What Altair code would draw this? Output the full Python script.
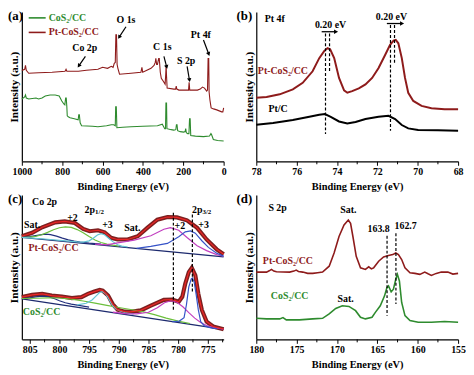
import math
import altair as alt
import pandas as pd

FONT = "Liberation Serif"
RED = "#8e1b1b"
GREEN = "#2e8b2e"
BLACK = "#000000"

# ---------------- (a) survey spectra: [binding energy, intensity] ----------------
a_red = [[1000, 91.7], [986, 93], [982, 97], [978, 92], [966, 89], [917, 89.5], [850, 90], [786, 91],
         [781, 93], [777, 91], [720, 91], [680, 92], [623, 93], [600, 95], [575, 94], [557, 96],
         [548, 95], [542, 99], [537, 100], [534, 128], [531, 128], [528, 98], [524, 94], [516, 88],
         [459, 89], [410, 90], [405, 95], [401, 90], [360, 94], [345, 97], [339, 100], [336, 104],
         [332, 98], [328, 98], [322, 104], [319, 104], [314, 90], [309, 84], [299, 81], [290, 78],
         [287, 88], [285, 97], [283, 86], [280, 74], [247, 73], [238, 73], [235, 76], [232, 73],
         [222, 72], [181, 72], [174, 72], [171, 80], [168, 72], [130, 72], [116, 73], [105, 75],
         [95, 74], [84, 71], [80, 72], [77, 104], [74, 104], [72, 70], [68, 62], [62, 54], [50, 53],
         [34, 52], [10, 50], [4, 50], [0, 54]]
a_green = [[1000, 63], [986, 65], [982, 67], [978, 64], [966, 63], [930, 64], [917, 63], [900, 64],
           [884, 66], [860, 67], [835, 67], [815, 66], [802, 61], [792, 58], [787, 57], [783, 64],
           [780, 64], [777, 55], [775, 46], [770, 45], [761, 44], [740, 43], [721, 42], [718, 47],
           [715, 47], [711, 39], [704, 36], [650, 35.5], [623, 35], [580, 36], [557, 37], [545, 37],
           [537, 36], [535, 55], [532, 55], [529, 34], [500, 34.5], [459, 35], [400, 35.5], [328, 36],
           [304, 37.5], [292, 33], [288, 33], [286, 59], [283, 59], [281, 33], [260, 32], [247, 31.5],
           [237, 32], [234, 37], [231, 37], [228, 31], [215, 30], [198, 29.5], [191, 30], [188, 33],
           [185, 29], [178, 28], [172, 28], [169, 43], [166, 43], [163, 26], [140, 25.5], [100, 25],
           [70, 25.5], [63, 28], [60, 27], [51, 22], [30, 21], [0, 20.5]]
a_arrows = [[685, 106, 716, 97], [484, 136, 516, 126], [296, 106, 283, 96],
            [181, 96, 170, 82.7], [100, 122.7, 75, 109]]
a_labels = [["Co 2p", 688, 114.3], ["O 1s", 484, 142.7], ["C 1s", 304, 116],
            ["S 2p", 186, 101.7], ["Pt 4f", 113, 127.7]]
a_legend = [["CoS\u2082/CC", 966, 882, 867, 145, GREEN], ["Pt-CoS\u2082/CC", 966, 882, 867, 130.3, RED]]

# ---------------- (b) Pt 4f ----------------
b_red = [[78, 64.3], [77.49, 65], [76.84, 67.7], [76.19, 72.7], [75.7, 79.3], [75.21, 91], [74.88, 104.3],
         [74.63, 111.7], [74.47, 114.3], [74.34, 113.3], [74.14, 104.3], [73.9, 84.3], [73.65, 71.7],
         [73.49, 69.3], [73.25, 71], [72.92, 73.7], [72.59, 77.7], [72.26, 84.3], [71.94, 94.3],
         [71.61, 107.7], [71.37, 117.7], [71.2, 122], [71.09, 122.7], [70.96, 119.3], [70.79, 104.3],
         [70.63, 84.3], [70.47, 69.3], [70.22, 61], [69.81, 56], [69.32, 53.7], [68.67, 52.7], [68, 52.7]]
b_black = [[78, 37], [77.17, 38.7], [76.19, 41.7], [75.37, 45], [74.88, 47], [74.6, 47.7], [74.31, 45],
           [73.9, 40.3], [73.49, 38.3], [73.08, 39.7], [72.59, 42.7], [71.94, 45], [71.45, 46],
           [71.12, 42.7], [70.79, 36.7], [70.47, 33.3], [69.98, 31.7], [69, 31.3], [68, 31]]
b_dashes = [[74.57, 129.3, 27.7], [74.37, 129.3, 91], [71.35, 137.7, 31], [71.15, 137.7, 97.7]]
b_arrows = [[74.76, 131, 74.08, 131], [71.53, 139.3, 70.81, 139.3]]
b_labels = [["0.20 eV", 74.32, 137.7, BLACK], ["0.20 eV", 71.3, 146, BLACK],
            ["Pt-CoS\u2082/CC", 76.68, 91, RED], ["Pt/C", 76.92, 52.7, BLACK]]

# ---------------- (c) Co 2p ----------------
c_up_env = [[806.33, 104.3], [804.6, 107.7], [802.9, 113.3], [800.7, 118.3], [799.1, 119.3], [797.4, 117.7],
            [796, 111.7], [794.9, 109.3], [793.5, 110.3], [792.4, 108.3], [791.3, 102.7], [790.2, 101],
            [788.5, 101], [786.8, 104.3], [785.2, 112.7], [783.5, 121], [781.8, 123.7], [780.2, 123.3],
            [778.5, 120.3], [776.8, 112.7], [775.2, 101], [773.5, 91], [772.33, 86]]
c_up_base = [[806.33, 103], [772.33, 83.5]]
c_up_sat = [[806.33, 103.2], [805, 103.8], [804, 104.9], [803, 105.9], [802.3, 106.3], [801.5, 105.9],
            [800.5, 104.4], [799.5, 102.4], [798.5, 100.6], [797.5, 99.3], [796.5, 98.4], [795, 97.3], [793, 96.2]]
c_up_green = [[806.33, 103.2], [805, 103.4], [804, 104.2], [803, 105.8], [802, 108.2], [801, 110.8],
              [800, 112.8], [799, 113.8], [798, 113.2], [797, 111], [796, 107.8], [795, 104], [794, 100.5],
              [793, 97.9], [792, 96.3], [791, 95.2], [790, 94.3]]
c_up_cyan = [[806.33, 103.1], [802, 101.2], [799, 99.5], [797, 98.6], [796, 98.4], [795, 99.6], [794.3, 102.3],
             [793.6, 105.6], [793, 106.8], [792.4, 105.8], [791.8, 102.8], [791, 98.8], [790.2, 95.6],
             [789.5, 94.2], [788.5, 93.4]]
c_up_mag = [[794, 96.2], [792, 95.6], [790.2, 97.6], [787.4, 100.3], [784.6, 104.7], [782.4, 111.3],
            [781.3, 113], [779.9, 110.3], [778.5, 103], [776.8, 94.7], [775.2, 89.7], [773.5, 85.7], [772.33, 84]]
c_up_blue = [[787, 92], [784.6, 94], [781.8, 97], [779.9, 103.7], [778.8, 108.7], [777.9, 109.7],
             [777.1, 107.3], [776, 99.7], [774.9, 93], [773.5, 87], [772.33, 84.2]]
c_lo_env = [[806.33, 42.7], [804.6, 45], [802.9, 46], [801.3, 44.3], [799.6, 43.3], [797.9, 41.7], [796.3, 42.7],
            [795.2, 46], [794.1, 48.3], [793.2, 50], [792.7, 49.3], [791.8, 44.3], [791, 35.5], [790.2, 30],
            [789, 28], [788, 27.8], [786.3, 29.3], [784.6, 34], [782.4, 40], [781, 40.3], [779.9, 38],
            [779.3, 43], [778.8, 56.3], [778.2, 68], [777.7, 72.3], [777.1, 64.7], [776.6, 46.3], [776, 29.7],
            [775.2, 18], [774.1, 13], [772.33, 10.3]]
c_lo_base = [[806.33, 41], [772.33, 10]]
c_lo_sat = [[806.33, 41.2], [805, 42], [804, 43], [803, 43.8], [802, 43.3], [801, 41.5], [800, 39],
            [799, 37], [798, 35.6], [797, 34.6], [795, 32.6]]
c_lo_green = [[806.33, 41.3], [804, 41.6], [802, 42], [800, 41.8], [798, 40.6], [796, 38.8], [794, 36.6],
              [792, 34.4], [790, 32.2], [788, 30.2], [786, 28], [784, 25], [782, 21.5], [780, 18.5], [778, 16]]
c_lo_cyan = [[797, 34.8], [795.5, 36.5], [794.5, 39.8], [793.8, 44], [793.2, 47.6], [792.7, 48.2], [792.2, 46.2],
             [791.7, 41.2], [791.2, 35.6], [790.6, 31.2], [789.8, 28.8], [789, 27.2], [787.5, 25.5]]
c_lo_mag = [[791, 27.5], [789, 26], [787, 25.8], [785, 27.4], [783.5, 32], [782.3, 37], [781.2, 39],
            [780.2, 37.5], [779.2, 33], [778.2, 27], [777.2, 21.5], [776.2, 17], [775.2, 14], [774, 12], [772.33, 10.2]]
c_lo_blue = [[781, 17.8], [779.8, 18.5], [779, 22], [778.6, 35], [778.2, 53], [777.8, 61], [777.6, 62],
             [777.3, 58], [777, 47], [776.6, 30], [776.2, 18], [775.6, 13.8], [774.5, 11.7], [773.5, 10.9]]
c_dashes = [[780.8, 128, 29.7], [777.6, 126.3, 46.3]]
c_labels = [["Sat.", 804.6, 116, BLACK], ["+2", 797.8, 122.7, BLACK], ["+3", 791.9, 116, BLACK],
            ["Sat.", 787.7, 112.7, BLACK], ["+2", 779.7, 115, BLACK], ["+3", 775.7, 116, BLACK],
            ["Pt-CoS\u2082/CC", 801, 92.7, RED], ["CoS\u2082/CC", 803, 27.7, GREEN]]
c_orbitals = [["2p", "1/2", 794.0, 131], ["2p", "3/2", 775.9, 131]]
c_title = [["Co 2p", 804.6, 139.3]]

# ---------------- (d) S 2p ----------------
d_red = [[180, 68], [178.73, 68], [178.4, 69.3], [178.12, 70.7], [177.83, 69], [177.5, 68.3], [175.87, 68],
         [175.34, 69], [175.06, 70], [174.77, 68.7], [174.24, 68], [173.63, 66.7], [173.01, 66.7], [172.4, 67.3],
         [171.79, 68], [170.97, 74], [170.36, 87.3], [169.75, 104], [169.13, 115.7], [168.6, 120.7],
         [168.32, 117.3], [168.03, 104], [167.62, 84], [167.09, 72.3], [166.48, 70.7], [166.07, 73.3],
         [165.74, 71.3], [165.46, 72.3], [164.84, 79], [164.23, 83.3], [163.62, 84.7], [163.09, 85.7],
         [162.72, 87.3], [162.39, 85.7], [161.99, 80.7], [161.58, 72.3], [160.96, 67.3], [160.35, 66.7],
         [159.74, 65.7], [159.13, 68], [158.72, 66.3], [158.31, 64.7], [157.7, 66.7], [157.08, 68],
         [156.27, 68], [155.65, 66], [155, 66.7]]
d_green = [[180, 21.3], [178.73, 20.7], [177.1, 20.7], [176.69, 22], [176.28, 19.7], [174.65, 19.7],
           [173.01, 20.7], [171.79, 21.3], [170.97, 25.7], [170.16, 31.3], [169.34, 34], [168.52, 33.3],
           [167.7, 29], [167.09, 22.3], [166.48, 20.7], [165.66, 22.3], [165.25, 27.3], [164.64, 34],
           [164.11, 44], [163.82, 52.3], [163.62, 54], [163.29, 48], [163.01, 50.7], [162.72, 60.7],
           [162.52, 65.7], [162.27, 59], [161.99, 37.3], [161.58, 24], [160.96, 19], [159.94, 17.3],
           [158.31, 17.3], [156.67, 18], [155, 17.3]]
d_dashes = [[163.8, 104.7, 24], [162.7, 107.3, 35.7]]
d_labels = [["Sat.", 168.6, 130.7, BLACK], ["163.8", 164.84, 111.3, BLACK], ["162.7", 161.5, 114.7, BLACK],
            ["Pt-CoS\u2082/CC", 176.08, 79, RED], ["Sat.", 168.93, 40.7, BLACK], ["CoS\u2082/CC", 175.87, 44, GREEN]]
d_title = [["S 2p", 178.5, 132.3]]

# ---------------- axes ----------------
a_ticks, a_minor = [1000, 800, 600, 400, 200, 0], [900, 700, 500, 300, 100]
b_ticks, b_minor = [78, 76, 74, 72, 70, 68], [77, 75, 73, 71, 69]
c_ticks, c_minor = [805, 800, 795, 790, 785, 780, 775], [802.5, 797.5, 792.5, 787.5, 782.5, 777.5, 772.5]
d_ticks, d_minor = [180, 175, 170, 165, 160, 155], [177.5, 172.5, 167.5, 162.5, 157.5]

W = 204
H1 = 151
H2 = 146


class Panel:
    def __init__(self, xdom, H, ticks, minor, tag, tagx):
        self.xdom, self.H, self.layers = xdom, H, []
        xs = alt.Scale(domain=xdom, reverse=True, nice=False, zero=False)
        ys = alt.Scale(domain=[0, H], nice=False, zero=False)
        xa = alt.Axis(values=ticks, title="Binding Energy (eV)", grid=False, format="d", labelFlush=False,
                      labelOverlap=False, tickSize=4, labelPadding=1, titlePadding=5)
        ya = alt.Axis(title="Intensity (a.u.)", labels=False, ticks=False, grid=False, titlePadding=2,
                      titleFontSize=11.5)
        self.X = lambda f="E": alt.X(f, type="quantitative", scale=xs, axis=xa)
        self.Y = lambda f="I": alt.Y(f, type="quantitative", scale=ys, axis=ya)
        self.layers.append(alt.Chart(pd.DataFrame({"E": minor})).mark_rule(color="black", strokeWidth=1)
                           .encode(x=self.X(), y=alt.value(H), y2=alt.value(H + 3)))
        self.layers.append(alt.Chart(pd.DataFrame({"t": [tag]})).mark_text(
            font=FONT, fontWeight="bold", fontSize=13, align="left", baseline="top", color="black")
            .encode(text="t:N", x=alt.value(tagx), y=alt.value(-2)))

    def line(self, pairs, color, width, opacity=1.0):
        self.layers.append(alt.Chart(pd.DataFrame(pairs, columns=["E", "I"])).mark_line(
            color=color, strokeWidth=width, opacity=opacity).encode(x=self.X(), y=self.Y()))

    def text(self, rows, size=10, align="center", dy=0):
        d = pd.DataFrame(rows, columns=["t", "E", "I", "c"])
        self.layers.append(alt.Chart(d).mark_text(font=FONT, fontWeight="bold", fontSize=size,
                                                  align=align, baseline="middle", dy=dy)
                           .encode(x=self.X(), y=self.Y(), text="t:N",
                                   color=alt.Color("c:N", scale=None)))

    def dashes(self, rows):
        d = pd.DataFrame(rows, columns=["E", "I", "I2"])
        self.layers.append(alt.Chart(d).mark_rule(color="black", strokeWidth=1.2, strokeDash=[3, 2])
                           .encode(x=self.X(), y=self.Y(), y2=alt.Y2("I2")))

    def arrows(self, rows, width=1.3, head=22):
        d = pd.DataFrame(rows, columns=["E", "I", "E2", "I2"])
        span = self.xdom[1] - self.xdom[0]
        angs = []
        for _, r in d.iterrows():
            dx = -(r.E2 - r.E) * W / span
            dy = -(r.I2 - r.I)
            angs.append(math.degrees(math.atan2(dx, -dy)) % 360)
        d["ang"] = angs
        self.layers.append(alt.Chart(d).mark_rule(color="black", strokeWidth=width)
                           .encode(x=self.X(), y=self.Y(), x2=alt.X2("E2"), y2=alt.Y2("I2")))
        self.layers.append(alt.Chart(d).mark_point(shape="triangle", filled=True, color="black",
                                                   size=head, opacity=1)
                           .encode(x=self.X("E2"), y=self.Y("I2"),
                                   angle=alt.Angle("ang:Q", scale=None)))

    def chart(self):
        return alt.layer(*self.layers).properties(width=W, height=self.H)


# (a)
pa = Panel([0, 1000], H1, a_ticks, a_minor, "(a)", -14)
pa.line(a_green, GREEN, 1.1)
pa.line(a_red, RED, 1.1)
pa.arrows(a_arrows, 1.2, 20)
pa.text([[t, e, i, BLACK] for t, e, i in a_labels], size=10)
leg = pd.DataFrame(a_legend, columns=["t", "E", "E2", "Et", "I", "c"])
pa.layers.append(alt.Chart(leg).mark_rule(strokeWidth=1.6).encode(
    x=pa.X(), x2=alt.X2("E2"), y=pa.Y(), color=alt.Color("c:N", scale=None)))
pa.layers.append(alt.Chart(leg).mark_text(font=FONT, fontWeight="bold", fontSize=10, align="left",
                                          baseline="middle").encode(
    x=pa.X("Et"), y=pa.Y(), text="t:N", color=alt.Color("c:N", scale=None)))

# (b)
pb = Panel([68, 78], H1, b_ticks, b_minor, "(b)", -20)
pb.line(b_black, BLACK, 2.0)
pb.line(b_red, RED, 2.0)
pb.dashes(b_dashes)
pb.arrows(b_arrows, 1.3, 22)
pb.text(b_labels, size=10)
pb.text([["Pt 4f", 77.58, 144.3, BLACK]], size=10, align="left")

# (c)
pc = Panel([772.33, 806.33], H2, c_ticks, c_minor, "(c)", -14)
for env, base, sat, gr, cy, mg, bl in [
        (c_up_env, c_up_base, c_up_sat, c_up_green, c_up_cyan, c_up_mag, c_up_blue),
        (c_lo_env, c_lo_base, c_lo_sat, c_lo_green, c_lo_cyan, c_lo_mag, c_lo_blue)]:
    pc.line(env, "#7d2020", 4.2)
    pc.line(base, "#1d2a6e", 1.3)
    pc.line(sat, "#23307e", 1.2)
    pc.line(gr, "#6cbf3c", 1.2)
    pc.line(cy, "#63c5d3", 1.2)
    pc.line(mg, "#c23fc0", 1.2)
    pc.line(bl, "#3653c8", 1.2)
    pc.line(env, "#ee2626", 1.2)
pc.dashes(c_dashes)
pc.text(c_labels, size=10)
pc.text([[t, e, i, BLACK] for t, e, i in c_title], size=10, align="left")
pc.text([[m, e, i, BLACK] for m, s, e, i in c_orbitals], size=10, align="right")
pc.text([[s, e, i, BLACK] for m, s, e, i in c_orbitals], size=7, align="left", dy=2)

# (d)
pd_ = Panel([155, 180], H2, d_ticks, d_minor, "(d)", -20)
pd_.line(d_green, GREEN, 1.6)
pd_.line(d_red, RED, 1.6)
pd_.dashes(d_dashes)
pd_.text(d_labels, size=10)
pd_.text([[t, e, i, BLACK] for t, e, i in d_title], size=10, align="left")

chart = alt.concat(pa.chart(), pb.chart(), pc.chart(), pd_.chart(), columns=2,
                   spacing={"row": 34, "column": 33}, bounds="flush").properties(padding=0).configure_view(
    stroke=None).configure_axis(
    labelFont=FONT, titleFont=FONT, labelFontWeight="bold", titleFontWeight="bold",
    labelFontSize=10, titleFontSize=10.5, domainColor="black", tickColor="black",
    labelColor="black", titleColor="black", domainWidth=1.2, tickWidth=1)

chart.save("out.html", embed_options={"renderer": "svg", "actions": False})
